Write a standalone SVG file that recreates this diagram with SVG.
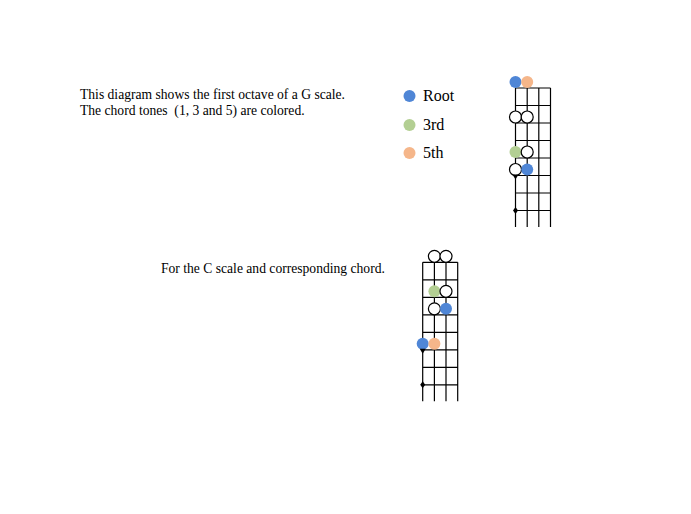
<svg xmlns="http://www.w3.org/2000/svg" width="691" height="514" viewBox="0 0 691 514">
<defs>
<style>
.t{font-family:"Liberation Serif","Times New Roman",serif;font-size:13.6px;fill:#000;white-space:pre}
.lg{font-family:"Liberation Serif","Times New Roman",serif;font-size:16px;fill:#000}
.ln{stroke:#000;stroke-width:1.2;fill:none}
.open{fill:#fff;stroke:#000;stroke-width:1.2}
.root{fill:#4F86D6}
.third{fill:#B3CF93}
.fifth{fill:#F5B68A}
</style>
<g id="grid">
<path class="ln" d="M0,0V139M11.7,0V139M23.3,0V139M35,0V139M0,0H35M0,17.5H35M0,35H35M0,52.5H35M0,70H35M0,87.5H35M0,105H35M0,122.5H35"/>
</g>
</defs>
<rect width="691" height="514" fill="#fff"/>
<g id="intro-text">
<text class="t" x="80" y="99">This diagram shows the first octave of a G scale.</text>
<text class="t" x="80" y="115" xml:space="preserve">The chord tones  (1, 3 and 5) are colored.</text>
</g>
<g id="legend">
<circle class="root" cx="409.5" cy="96" r="6"/>
<text class="lg" x="423" y="100.5">Root</text>
<circle class="third" cx="409.5" cy="125" r="6"/>
<text class="lg" x="423" y="129.5">3rd</text>
<circle class="fifth" cx="409.5" cy="153" r="6"/>
<text class="lg" x="423" y="157.5">5th</text>
</g>
<g id="g-scale">
<use href="#grid" x="515.5" y="88"/>
<circle class="root" cx="515.5" cy="82" r="6"/>
<circle class="fifth" cx="527.2" cy="82" r="6"/>
<circle class="open" cx="515.5" cy="117" r="6"/>
<circle class="open" cx="527.2" cy="117" r="6"/>
<circle class="third" cx="515.5" cy="152" r="6"/>
<circle class="open" cx="527.2" cy="152" r="6"/>
<circle class="open" cx="515.5" cy="169.5" r="6"/>
<circle class="root" cx="527.2" cy="169.5" r="6"/>
<path d="M512.5,174.5H518.5L515.5,179.5Z" fill="#000"/>
<path d="M515.5,207L518,210.5L515.5,214L513,210.5Z" fill="#000"/>
</g>
<g id="c-text">
<text class="t" x="161" y="273">For the C scale and corresponding chord.</text>
</g>
<g id="c-scale">
<use href="#grid" x="422.7" y="262.3"/>
<circle class="open" cx="434.4" cy="256.3" r="6"/>
<circle class="open" cx="446" cy="256.3" r="6"/>
<circle class="third" cx="434.4" cy="291.3" r="6"/>
<circle class="open" cx="446" cy="291.3" r="6"/>
<circle class="open" cx="434.4" cy="308.8" r="6"/>
<circle class="root" cx="446" cy="308.8" r="6"/>
<circle class="root" cx="422.7" cy="343.8" r="6"/>
<circle class="fifth" cx="434.4" cy="343.8" r="6"/>
<path d="M419.7,348.8H425.7L422.7,353.8Z" fill="#000"/>
<path d="M422.7,381.3L425.2,384.8L422.7,388.3L420.2,384.8Z" fill="#000"/>
</g>
</svg>
